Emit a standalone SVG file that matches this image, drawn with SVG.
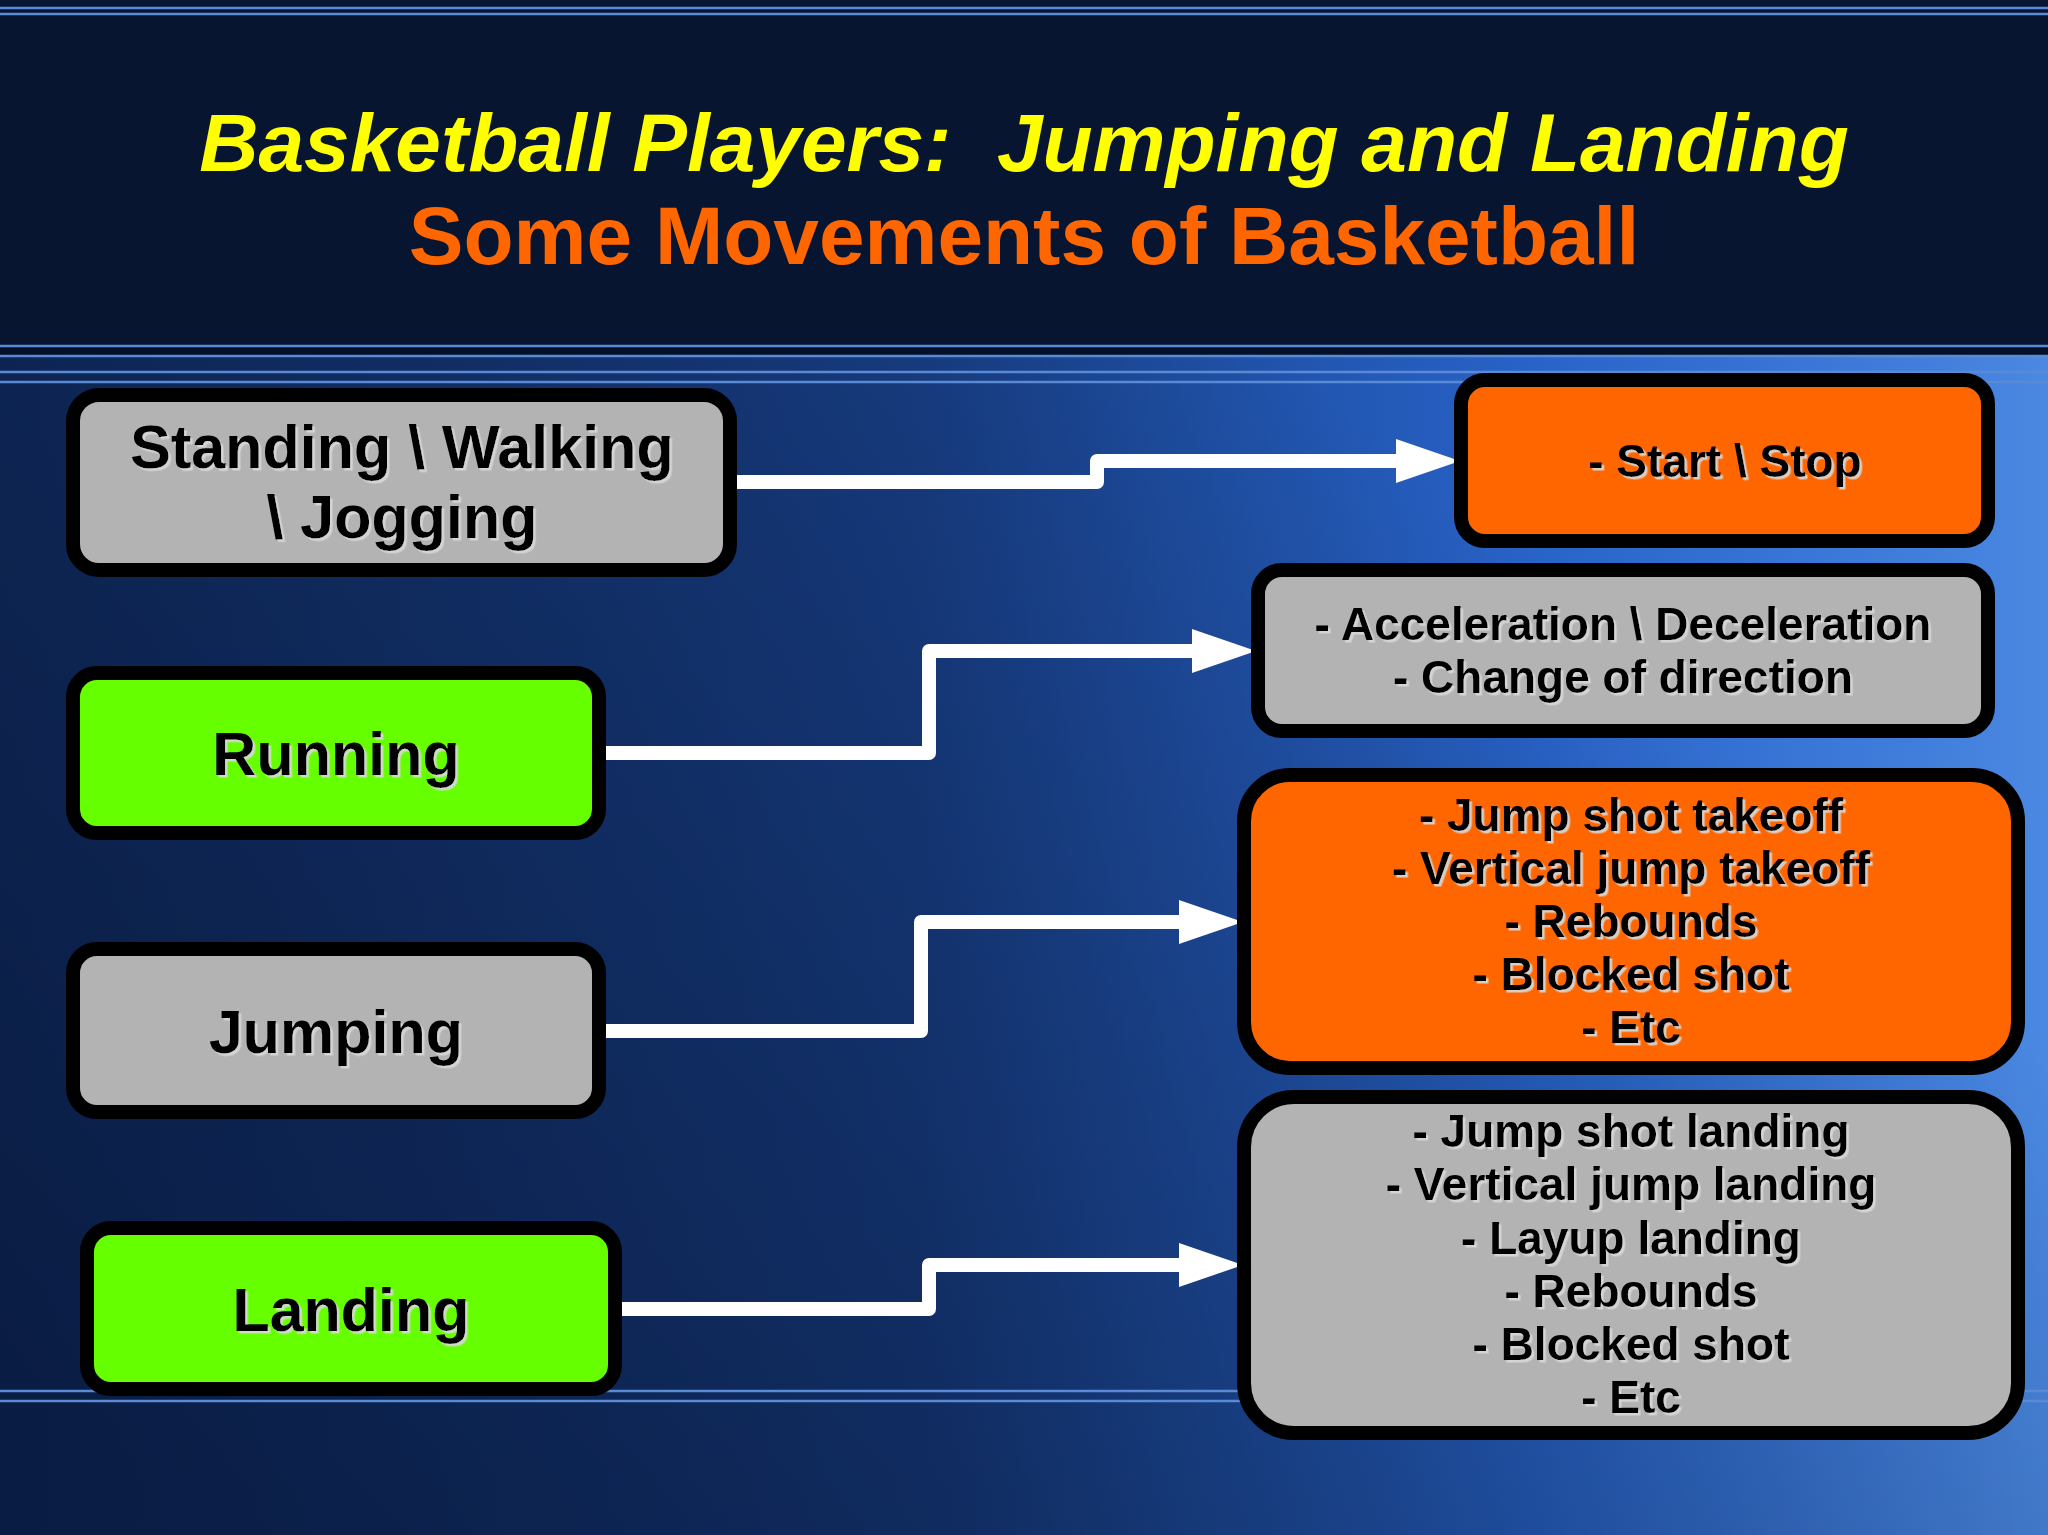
<svg xmlns="http://www.w3.org/2000/svg" width="2048" height="1535" viewBox="0 0 2048 1535">
  <defs>
    <linearGradient id="bgH" x1="0" y1="0" x2="1" y2="0">
      <stop offset="0" stop-color="#153c84"/>
      <stop offset="0.45" stop-color="#1a4696"/>
      <stop offset="0.75" stop-color="#2a68d2"/>
      <stop offset="1" stop-color="#4a88e2"/>
    </linearGradient>
    <linearGradient id="bgV" gradientUnits="userSpaceOnUse" x1="1300" y1="356" x2="200" y2="1535">
      <stop offset="0" stop-color="#000000" stop-opacity="0"/>
      <stop offset="1" stop-color="#000a20" stop-opacity="0.55"/>
    </linearGradient>
    <linearGradient id="bgL" x1="0" y1="0" x2="1" y2="0">
      <stop offset="0" stop-color="#0a1530" stop-opacity="0.3"/>
      <stop offset="0.5" stop-color="#0a1530" stop-opacity="0.12"/>
      <stop offset="1" stop-color="#0a1530" stop-opacity="0"/>
    </linearGradient>
    <filter id="shadow" x="-10%" y="-20%" width="120%" height="140%">
      <feDropShadow dx="2.5" dy="2.5" stdDeviation="0.4" flood-color="#d8d8d8" flood-opacity="0.9"/>
    </filter>
    <marker id="arrow" markerUnits="userSpaceOnUse" markerWidth="64" markerHeight="44" refX="20" refY="22" orient="auto">
      <path d="M0,0 L64,22 L0,44 Z" fill="#ffffff"/>
    </marker>
  </defs>
  <style>
    .box { stroke: #000000; stroke-width: 14; }
    .gray { fill: #b3b3b3; }
    .green { fill: #66ff00; }
    .orange { fill: #ff6600; }
    .lbl { font-family: "Liberation Sans", Arial, sans-serif; font-weight: bold; fill: #000000; text-anchor: middle; filter: url(#shadow); }
    .big { font-size: 61px; }
    .small { font-size: 46px; }
    .conn { fill: none; stroke: #ffffff; stroke-width: 14; stroke-linejoin: round; marker-end: url(#arrow); }
    .hl { stroke: #5a8ad6; stroke-width: 2.5; }
    .title { font-family: "Liberation Sans", Arial, sans-serif; font-weight: bold; font-size: 82px; text-anchor: middle; }
  </style>

  <!-- background -->
  <rect x="0" y="0" width="2048" height="1535" fill="url(#bgH)"/>
  <rect x="0" y="356" width="2048" height="1179" fill="url(#bgV)"/>
  <rect x="0" y="356" width="2048" height="1179" fill="url(#bgL)"/>
  <rect x="0" y="0" width="2048" height="356" fill="#071530"/>
  <rect x="0" y="347" width="2048" height="9" fill="#031028"/>
  <line class="hl" x1="0" y1="8" x2="2048" y2="8"/>
  <line class="hl" x1="0" y1="14" x2="2048" y2="14"/>
  <line class="hl" x1="0" y1="346" x2="2048" y2="346"/>
  <line class="hl" x1="0" y1="356" x2="2048" y2="356"/>
  <line class="hl" x1="0" y1="372" x2="2048" y2="372"/>
  <line class="hl" x1="0" y1="382" x2="2048" y2="382"/>
  <line class="hl" x1="0" y1="1391" x2="2048" y2="1391"/>
  <line class="hl" x1="0" y1="1401" x2="2048" y2="1401"/>

  <!-- title -->
  <g id="title">
    <text class="title" x="1024" y="171" fill="#ffff00" font-style="italic" xml:space="preserve">Basketball Players:  Jumping and Landing</text>
    <text class="title" x="1024" y="264" fill="#ff6600">Some Movements of Basketball</text>
  </g>

  <!-- connectors -->
  <g id="connectors">
    <path class="conn" d="M737,482 H1097 V461 H1416"/>
    <path class="conn" d="M606,753 H929 V651 H1212"/>
    <path class="conn" d="M606,1031 H921 V922 H1199"/>
    <path class="conn" d="M622,1309 H929 V1265 H1199"/>
  </g>

  <!-- left nodes -->
  <g id="node-standing">
    <rect class="box gray" x="73" y="395" width="657" height="175" rx="26"/>
    <text class="lbl big" x="402" y="468">Standing \ Walking</text>
    <text class="lbl big" x="402" y="538">\ Jogging</text>
  </g>
  <g id="node-running">
    <rect class="box green" x="73" y="673" width="526" height="160" rx="24"/>
    <text class="lbl big" x="336" y="775">Running</text>
  </g>
  <g id="node-jumping">
    <rect class="box gray" x="73" y="949" width="526" height="163" rx="24"/>
    <text class="lbl big" x="336" y="1053">Jumping</text>
  </g>
  <g id="node-landing">
    <rect class="box green" x="87" y="1228" width="528" height="161" rx="24"/>
    <text class="lbl big" x="351" y="1331">Landing</text>
  </g>

  <!-- right nodes -->
  <g id="node-startstop">
    <rect class="box orange" x="1461" y="380" width="527" height="161" rx="24"/>
    <text class="lbl small" x="1725" y="477">- Start \ Stop</text>
  </g>
  <g id="node-acceleration">
    <rect class="box gray" x="1258" y="570" width="730" height="161" rx="24"/>
    <text class="lbl small" x="1623" y="640">- Acceleration \ Deceleration</text>
    <text class="lbl small" x="1623" y="693">- Change of direction</text>
  </g>
  <g id="node-takeoff">
    <rect class="box orange" x="1244" y="775" width="774" height="293" rx="46"/>
    <text class="lbl small" x="1631" y="831">- Jump shot takeoff</text>
    <text class="lbl small" x="1631" y="884">- Vertical jump takeoff</text>
    <text class="lbl small" x="1631" y="937">- Rebounds</text>
    <text class="lbl small" x="1631" y="990">- Blocked shot</text>
    <text class="lbl small" x="1631" y="1043">- Etc</text>
  </g>
  <g id="node-landinglist">
    <rect class="box gray" x="1244" y="1097" width="774" height="336" rx="50"/>
    <text class="lbl small" x="1631" y="1147">- Jump shot landing</text>
    <text class="lbl small" x="1631" y="1200">- Vertical jump landing</text>
    <text class="lbl small" x="1631" y="1254">- Layup landing</text>
    <text class="lbl small" x="1631" y="1307">- Rebounds</text>
    <text class="lbl small" x="1631" y="1360">- Blocked shot</text>
    <text class="lbl small" x="1631" y="1413">- Etc</text>
  </g>
</svg>
